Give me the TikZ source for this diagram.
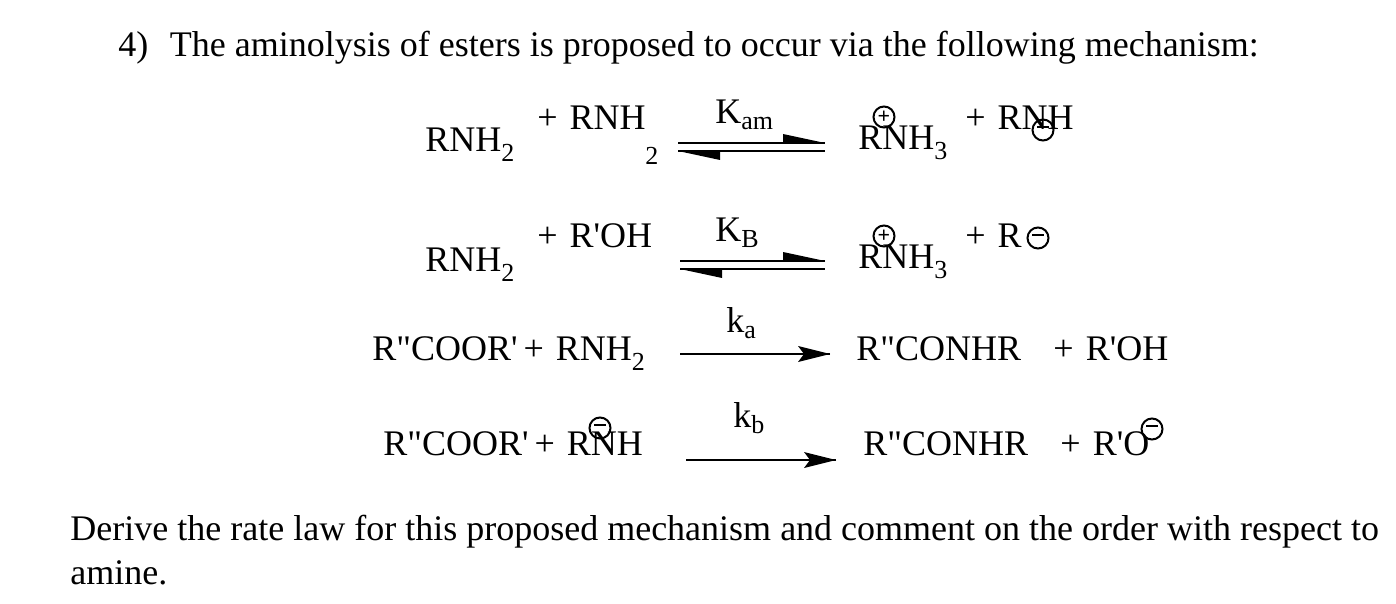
\documentclass[tikz,border=0pt]{standalone}
\usepackage{fontspec}
\setmainfont{Liberation Serif}[Ligatures=TeXOff]
\newcommand{\dq}{"}
\newcommand{\sq}{'}
\begin{document}
\begin{tikzpicture}[x=0.5pt,y=-0.5pt,
  txt/.style={anchor=base west,inner sep=0pt,font=\fontsize{18}{22}\selectfont},
  chg/.style={circle,draw,line width=1pt,minimum size=10.5pt,inner sep=0pt},
  arr/.style={line width=1.3pt}]
\useasboundingbox (0,0) rectangle (1396,604);
\node[txt] (title) at (118,57) {4)\hspace{0.6em}The aminolysis of esters is proposed to occur via the following mechanism:};
% row 1
\node[txt] (a1) at (425,152) {RNH\raisebox{-5pt}{\fontsize{13}{15}\selectfont 2}};
\node[txt] (b1) at (537,130) {+\,\,RNH};
\node[txt] (b1s) at (645,165) {\fontsize{13}{15}\selectfont 2};
\node[txt] (k1) at (715,124) {K\raisebox{-3pt}{\fontsize{13}{15}\selectfont am}};
\coordinate (p1l) at (678,143); \coordinate (p1r) at (825,143);
\coordinate (q1l) at (678,151); \coordinate (q1r) at (825,151);
\draw[arr] (p1l) -- (p1r);
\fill (p1r) -- ++(-42,-9) -- ++(0,9) -- cycle;
\draw[arr] (q1l) -- (q1r);
\fill (q1l) -- ++(42,9) -- ++(0,-9) -- cycle;
\node[txt] (c1) at (858,150) {RNH\raisebox{-5pt}{\fontsize{13}{15}\selectfont 3}};
\node[chg] (c1p) at (884,117) {\fontsize{11}{11}\selectfont\textbf{+}};
\node[txt] (d1) at (965,130) {+\,\,RNH};
\node[chg] (d1m) at (1043,130) {\rule[3pt]{6pt}{1pt}};
% row 2
\node[txt] (a2) at (425,271) {RNH\raisebox{-5pt}{\fontsize{13}{15}\selectfont 2}};
\node[txt] (b2) at (537,248) {+\,\,R\sq OH};
\node[txt] (k2) at (715,242) {K\raisebox{-3pt}{\fontsize{13}{15}\selectfont B}};
\coordinate (p2l) at (680,261); \coordinate (p2r) at (825,261);
\coordinate (q2l) at (680,269); \coordinate (q2r) at (825,269);
\draw[arr] (p2l) -- (p2r);
\fill (p2r) -- ++(-42,-9) -- ++(0,9) -- cycle;
\draw[arr] (q2l) -- (q2r);
\fill (q2l) -- ++(42,9) -- ++(0,-9) -- cycle;
\node[txt] (c2) at (858,269) {RNH\raisebox{-5pt}{\fontsize{13}{15}\selectfont 3}};
\node[chg] (c2p) at (884,236) {\fontsize{11}{11}\selectfont\textbf{+}};
\node[txt] (d2) at (965,248) {+\,\,R};
\node[chg] (d2m) at (1038,238) {\rule[3pt]{6pt}{1pt}};
% row 3
\node[txt] (a3) at (372,360) {R\dq COOR\sq\,+\,\,RNH\raisebox{-5pt}{\fontsize{13}{15}\selectfont 2}};
\node[txt] (k3) at (726,332) {k\raisebox{-3pt}{\fontsize{13}{15}\selectfont a}};
\coordinate (r3l) at (680,354); \coordinate (r3r) at (830,354);
\draw[arr] (r3l) -- (r3r);
\fill (r3r) -- ++(-32,-8) -- ++(6,8) -- ++(-6,8) -- cycle;
\node[txt] (c3) at (856,360) {R\dq CONHR\hspace{0.9em}+\,\,R\sq OH};
% row 4
\node[txt] (a4) at (383,455) {R\dq COOR\sq\,+\,\,RNH};
\node[chg] (a4m) at (600,428) {\rule[3pt]{6pt}{1pt}};
\node[txt] (k4) at (733,427) {k\raisebox{-3pt}{\fontsize{13}{15}\selectfont b}};
\coordinate (r4l) at (686,460); \coordinate (r4r) at (836,460);
\draw[arr] (r4l) -- (r4r);
\fill (r4r) -- ++(-32,-8) -- ++(6,8) -- ++(-6,8) -- cycle;
\node[txt] (c4) at (863,455) {R\dq CONHR\hspace{0.9em}+\,\,R\sq O};
\node[chg] (c4m) at (1152,429) {\rule[3pt]{6pt}{1pt}};
% text
\node[txt] (t1) at (70,540) {Derive the rate law for this proposed mechanism and comment on the order with respect to};
\node[txt] (t2) at (70,584) {amine.};
\end{tikzpicture}
\end{document}
